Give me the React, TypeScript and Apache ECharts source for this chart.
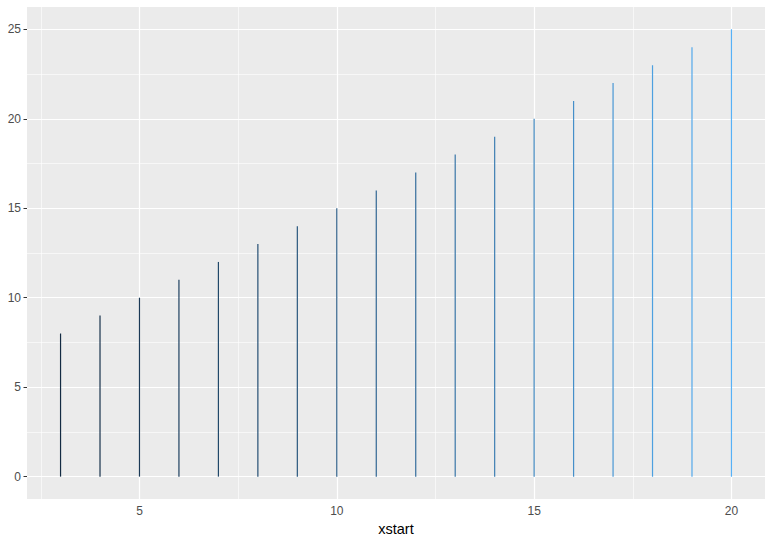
import React from 'react';
import * as echarts from 'echarts';

const xStart = [3, 4, 5, 6, 7, 8, 9, 10, 11, 12, 13, 14, 15, 16, 17, 18, 19, 20];
const yEnd = [8, 9, 10, 11, 12, 13, 14, 15, 16, 17, 18, 19, 20, 21, 22, 23, 24, 25];
const xTicks = [5, 10, 15, 20];
const xMinor = [2.5, 7.5, 12.5, 17.5];
const yTicks = [0, 5, 10, 15, 20, 25];
const yMinor = [2.5, 7.5, 12.5, 17.5, 22.5];

const LOW = '#132B43';
const HIGH = '#56B1F7';

// sRGB <-> Lab, so the gradient blends like ggplot's default scale
const hexToRgb = (hex: string): number[] => [
  parseInt(hex.slice(1, 3), 16),
  parseInt(hex.slice(3, 5), 16),
  parseInt(hex.slice(5, 7), 16),
];

const toLinear = (c: number) => {
  const v = c / 255;
  return v <= 0.04045 ? v / 12.92 : Math.pow((v + 0.055) / 1.055, 2.4);
};
const fromLinear = (v: number) => {
  const c = v <= 0.0031308 ? v * 12.92 : 1.055 * Math.pow(v, 1 / 2.4) - 0.055;
  return Math.max(0, Math.min(255, Math.round(c * 255)));
};

const WHITE = [0.95047, 1, 1.08883];

const rgbToLab = (rgb: number[]): number[] => {
  const [r, g, b] = rgb.map(toLinear);
  const x = (0.4124 * r + 0.3576 * g + 0.1805 * b) / WHITE[0];
  const y = (0.2126 * r + 0.7152 * g + 0.0722 * b) / WHITE[1];
  const z = (0.0193 * r + 0.1192 * g + 0.9505 * b) / WHITE[2];
  const f = (t: number) => (t > 216 / 24389 ? Math.cbrt(t) : (24389 / 27 * t + 16) / 116);
  const fx = f(x);
  const fy = f(y);
  const fz = f(z);
  return [116 * fy - 16, 500 * (fx - fy), 200 * (fy - fz)];
};

const labToHex = (lab: number[]): string => {
  const fy = (lab[0] + 16) / 116;
  const fx = fy + lab[1] / 500;
  const fz = fy - lab[2] / 200;
  const inv = (t: number) => (t * t * t > 216 / 24389 ? t * t * t : (116 * t - 16) / (24389 / 27));
  const x = inv(fx) * WHITE[0];
  const y = inv(fy) * WHITE[1];
  const z = inv(fz) * WHITE[2];
  const r = 3.2406 * x - 1.5372 * y - 0.4986 * z;
  const g = -0.9689 * x + 1.8758 * y + 0.0415 * z;
  const b = 0.0557 * x - 0.204 * y + 1.057 * z;
  return '#' + [r, g, b].map((v) => fromLinear(v).toString(16).padStart(2, '0')).join('');
};

const lowLab = rgbToLab(hexToRgb(LOW));
const highLab = rgbToLab(hexToRgb(HIGH));

const gradientColor = (value: number, min: number, max: number): string => {
  const t = (value - min) / (max - min);
  return labToHex(lowLab.map((v, i) => v + (highLab[i] - v) * t));
};

const yMinVal = Math.min(...yEnd);
const yMaxVal = Math.max(...yEnd);
const segmentColors = yEnd.map((y) => gradientColor(y, yMinVal, yMaxVal));

const gridLine = (axis: 'xAxis' | 'yAxis', value: number, width: number) => ({
  [axis]: value,
  lineStyle: { color: '#FFFFFF', width, type: 'solid' },
});

const App = () => {
  const chartRef = React.useRef<HTMLDivElement>(null);

  React.useEffect(() => {
    if (!chartRef.current) return;
    const chart = echarts.init(chartRef.current, undefined, { renderer: 'svg' });

    const option: echarts.EChartsOption = {
      animation: false,
      grid: {
        left: 27,
        right: 8,
        top: 7,
        bottom: 45,
        show: true,
        backgroundColor: '#EBEBEB',
        borderWidth: 0,
      },
      xAxis: {
        type: 'value',
        min: 2.15,
        max: 20.85,
        name: 'xstart',
        nameLocation: 'middle',
        nameGap: 19,
        nameTextStyle: {
          color: '#000000',
          fontSize: 14.5,
          fontFamily: 'Liberation Sans',
          verticalAlign: 'top',
        },
        axisLine: { show: false },
        axisTick: {
          show: true,
          length: 3.5,
          lineStyle: { color: '#333333', width: 1 },
          customValues: xTicks,
        },
        axisLabel: {
          color: '#4D4D4D',
          fontSize: 12,
          fontFamily: 'Liberation Sans',
          margin: 6,
          customValues: xTicks,
        },
        splitLine: { show: false },
      },
      yAxis: {
        type: 'value',
        min: -1.25,
        max: 26.25,
        axisLine: { show: false },
        axisTick: {
          show: true,
          length: 3.5,
          lineStyle: { color: '#333333', width: 1 },
          customValues: yTicks,
        },
        axisLabel: {
          color: '#4D4D4D',
          fontSize: 12,
          fontFamily: 'Liberation Sans',
          margin: 6,
          customValues: yTicks,
        },
        splitLine: { show: false },
      },
      series: [
        {
          type: 'line',
          data: [],
          z: 1,
          silent: true,
          markLine: {
            silent: true,
            z: 1,
            symbol: ['none', 'none'],
            label: { show: false },
            emphasis: { disabled: true },
            data: [
              ...xMinor.map((v) => gridLine('xAxis', v, 0.6)),
              ...yMinor.map((v) => gridLine('yAxis', v, 0.6)),
              ...xTicks.map((v) => gridLine('xAxis', v, 1.2)),
              ...yTicks.map((v) => gridLine('yAxis', v, 1.2)),
            ],
          },
        },
        {
          type: 'custom',
          z: 10,
          silent: true,
          data: xStart.map((x, i) => [x, yEnd[i]]),
          renderItem: (params: any, api: any) => {
            const x = api.value(0);
            const y = api.value(1);
            const p0 = api.coord([x, 0]);
            const p1 = api.coord([x, y]);
            return {
              type: 'line',
              shape: { x1: p0[0], y1: p0[1], x2: p1[0], y2: p1[1] },
              style: { stroke: segmentColors[params.dataIndex], lineWidth: 1.2 },
            };
          },
        },
      ],
    };

    chart.setOption(option);
    return () => {
      chart.dispose();
    };
  }, []);

  return (
    <div
      ref={chartRef}
      style={{ position: 'absolute', left: 0, top: 0, width: 773, height: 544, background: '#FFFFFF' }}
    />
  );
};

export default App;
